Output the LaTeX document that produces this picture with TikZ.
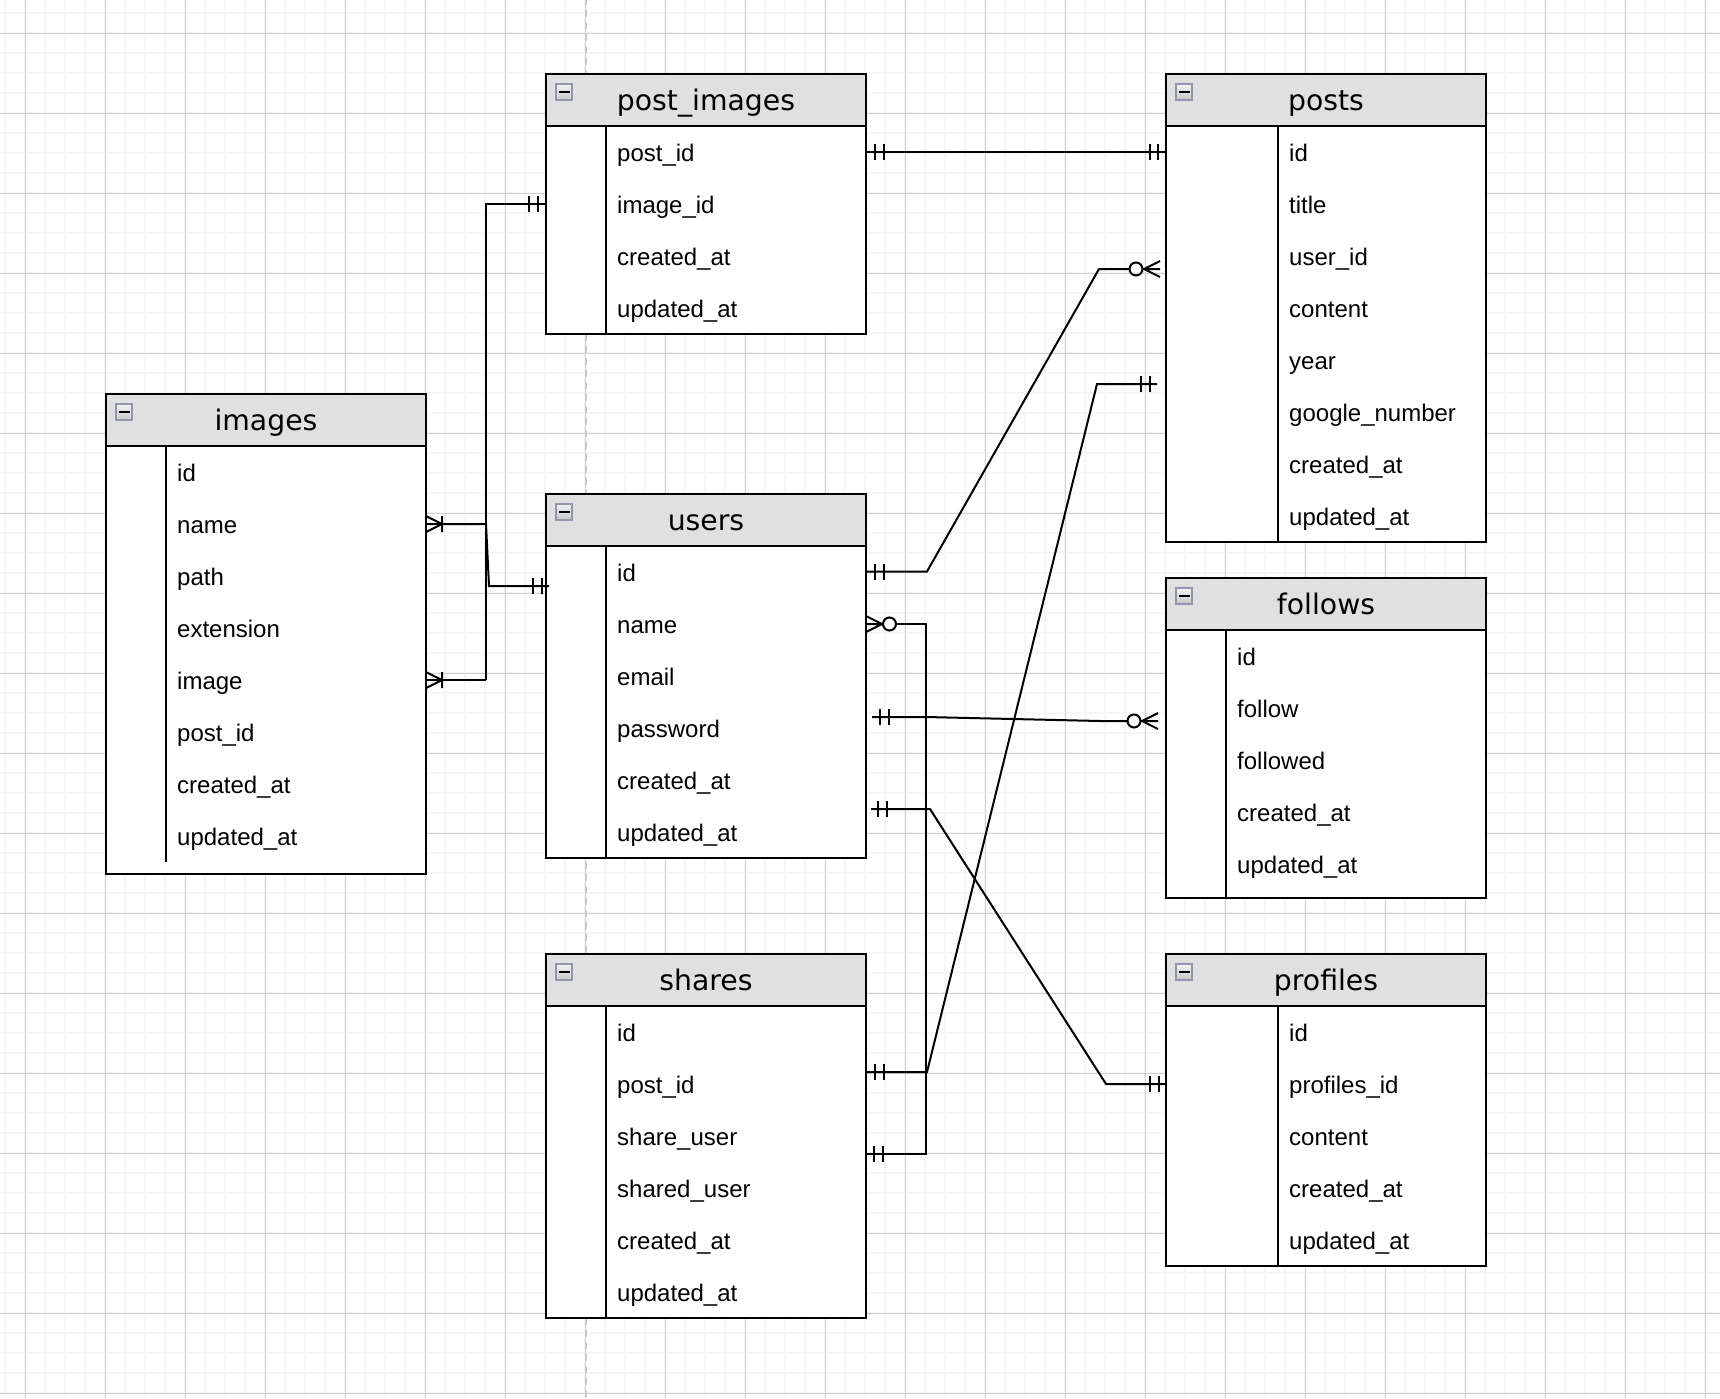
\documentclass[tikz,border=0pt]{standalone}
\usepackage{fontspec}
\setmainfont{Liberation Sans}
\newfontfamily\titlefont{DejaVu Sans}
\definecolor{minorgrid}{HTML}{F6F6F6}
\definecolor{majorgrid}{HTML}{D0D0D0}
\definecolor{pagebreak}{HTML}{C8C8C8}
\definecolor{headfill}{HTML}{E0E0E0}
\definecolor{iconedge}{HTML}{8E98AC}
\tikzset{
  x=1pt,y=-1pt,
  minorline/.style={draw=minorgrid,line width=2pt},
  majorline/.style={draw=majorgrid,line width=1pt},
  tablebox/.style={fill=white,anchor=north west,inner sep=0pt,outer sep=0pt,minimum width=320pt},
  headpart/.style={fill=headfill},
  framepart/.style={draw=black,line width=2pt},
  titletext/.style={anchor=base,inner sep=0pt,font=\titlefont\fontsize{28.3}{28.3}\selectfont},
  rowtext/.style={anchor=base west,inner sep=0pt,font=\fontsize{24}{24}\selectfont},
  columnline/.style={draw=black,line width=2pt},
  conn/.style={draw=black,line width=2pt,line join=miter},
  icon/.style={draw=iconedge,line width=2pt,top color=headfill!40,bottom color=black!22,anchor=north west,inner sep=0pt,outer sep=0pt,minimum size=16pt},
  iconminus/.style={draw=black,line width=2pt},
  twobars/.pic={\draw[conn] (0,-8)--(0,8) (8.5,-8)--(8.5,8);},
  crowright/.pic={\draw[conn] (0,-8)--(16,0)--(0,8) (16,-8)--(16,8);},
  zerocrowright/.pic={\draw[conn] (0,-8)--(16,0)--(0,8) (0,0)--(17,0); \draw[conn] (23.5,0) circle (6.5pt);},
  zerocrowleft/.pic={\draw[conn] (0,-8)--(-16,0)--(0,8) (0,0)--(-17,0); \draw[conn] (-24,0) circle (6.5pt);}
}
% id, x, y, column width, box height, column line length, title, fields
\newcommand{\ertable}[8]{%
  \node[tablebox,minimum height=#5 pt] (#1) at (#2,#3) {};
  \fill[headpart] (#2,#3) rectangle ({#2+320},{#3+52});
  \draw[framepart] (#2,{#3+52}) -- ({#2+320},{#3+52});
  \draw[framepart] (#2,#3) rectangle ({#2+320},{#3+#5});
  \node[titletext] (#1-title) at ({#2+160},{#3+36}) {#7};
  \node[icon] (#1-icon) at ({#2+10},{#3+10}) {};
  \draw[iconminus] ({#2+13},{#3+18}) -- ({#2+24},{#3+18});
  \draw[columnline] ({#2+#4},{#3+52}) -- ({#2+#4},{#3+52+#6});
  \foreach \f [count=\i] in {#8}{
    \node[rowtext] (#1-row\i) at ({#2+#4+11},{#3+52+(\i-1)*52+35}) {\f};
    \coordinate (#1-w\i) at ({#2},{#3+52+(\i-1)*52+26});
    \coordinate (#1-e\i) at ({#2+320},{#3+52+(\i-1)*52+26});
  }
}
\begin{document}
\begin{tikzpicture}
\useasboundingbox (0,0) rectangle (1720,1398);
\fill[white] (0,0) rectangle (1720,1398);
% page grid
\foreach \v in {5,25,...,1705} \draw[minorline] (\v,0) -- (\v,1398);
\foreach \k in {0,...,69} \draw[minorline] (0,{13.33+20*\k}) -- (1720,{13.33+20*\k});
\foreach \v in {25,105,...,1705} \draw[majorline] (\v,0) -- (\v,1398);
\foreach \k in {0,...,17} \draw[majorline] (0,{33.33+80*\k}) -- (1720,{33.33+80*\k});
\draw[draw=pagebreak,line width=2pt,dash pattern=on 7pt off 5pt,dash phase=2pt] (586,0) -- (586,1398);
% tables
\ertable{images}{106}{394}{60}{480}{416}{images}{id,name,path,extension,image,post\_id,created\_at,updated\_at}
\ertable{postimages}{546}{74}{60}{260}{208}{post\_images}{post\_id,image\_id,created\_at,updated\_at}
\ertable{users}{546}{494}{60}{364}{312}{users}{id,name,email,password,created\_at,updated\_at}
\ertable{shares}{546}{954}{60}{364}{312}{shares}{id,post\_id,share\_user,shared\_user,created\_at,updated\_at}
\ertable{posts}{1166}{74}{112}{468}{416}{posts}{id,title,user\_id,content,year,google\_number,created\_at,updated\_at}
\ertable{follows}{1166}{578}{60}{320}{268}{follows}{id,follow,followed,created\_at,updated\_at}
\ertable{profiles}{1166}{954}{112}{312}{260}{profiles}{id,profiles\_id,content,created\_at,updated\_at}
% free ends and bends
\coordinate (imgbus) at (486,524);
\coordinate (imgbend) at (486,680);
\coordinate (imgtop) at (486,204);
\coordinate (usrbend) at (489,586);
\coordinate (usrin) at (549,586);
\coordinate (piw) at (546,204);
\coordinate (ueast1) at (927,571.5);
\coordinate (ubar1) at (866,571.5);
\coordinate (pbend) at (1099,269);
\coordinate (pzero) at (1130,269);
\coordinate (shbar) at (866,1072);
\coordinate (shbend) at (927,1072);
\coordinate (pbend2) at (1097,384);
\coordinate (pin2) at (1157,384);
\coordinate (unameout) at (896,624);
\coordinate (unamebend) at (926,624);
\coordinate (shbend2) at (926,1154);
\coordinate (shbar2) at (866,1154);
\coordinate (fstart) at (872,717);
\coordinate (fbend0) at (926,717);
\coordinate (fbend) at (1100,721);
\coordinate (fzero) at (1128,721);
\coordinate (prstart) at (871,809);
\coordinate (prbend0) at (930,809);
\coordinate (prbend) at (1106,1084);
\coordinate (prend) at (1166,1084);
% connectors
\draw[conn] (postimages-e1) -- (posts-w1);
\draw[conn] (imgbend) -- (imgtop) -- (piw);
\draw[conn] (426,680) -- (imgbend);
\draw[conn] (426,524) -- (imgbus) -- (usrbend) -- (usrin);
\draw[conn] (ubar1) -- (ueast1) -- (pbend) -- (pzero);
\draw[conn] (shbar) -- (shbend) -- (pbend2) -- (pin2);
\draw[conn] (unameout) -- (unamebend) -- (shbend2) -- (shbar2);
\draw[conn] (fstart) -- (fbend0) -- (fbend) -- (fzero);
\draw[conn] (prstart) -- (prbend0) -- (prbend) -- (prend);
% end marks
\pic at (875,152) {twobars};
\pic at (1149.5,152) {twobars};
\pic at (529,204) {twobars};
\pic at (533,586) {twobars};
\pic at (875,571.5) {twobars};
\pic at (875,1072) {twobars};
\pic at (874,1154) {twobars};
\pic at (880,717) {twobars};
\pic at (878,809) {twobars};
\pic at (1150,1084) {twobars};
\pic at (1141,384) {twobars};
\pic at (426,524) {crowright};
\pic at (426,680) {crowright};
\pic at (866,624) {zerocrowright};
\pic at (1160,269) {zerocrowleft};
\pic at (1158,721) {zerocrowleft};
\end{tikzpicture}
\end{document}
